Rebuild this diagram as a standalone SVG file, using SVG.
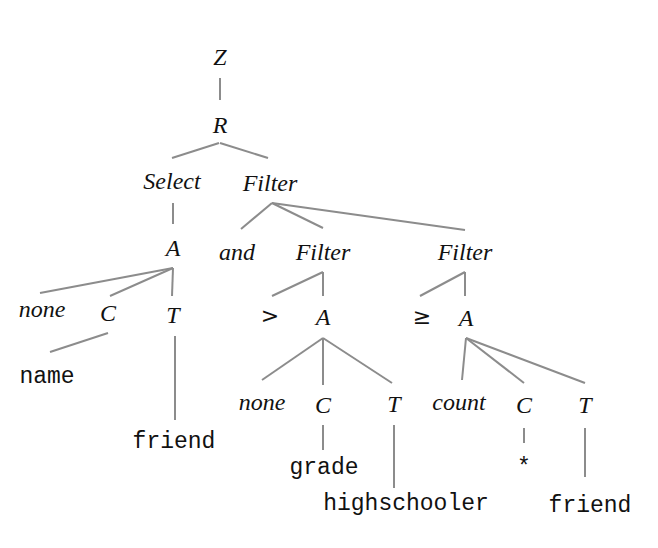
<svg xmlns="http://www.w3.org/2000/svg" width="658" height="548" viewBox="0 0 658 548">
<style>
.i{font-family:"Liberation Serif",serif;font-style:italic;font-size:24px;fill:#111;text-anchor:middle}
.o{font-family:"DejaVu Sans",sans-serif;font-size:22px;fill:#111;text-anchor:middle}
.m{font-family:"Liberation Mono",monospace;font-size:23px;fill:#111;text-anchor:middle}
.e line{stroke:#8c8c8c;stroke-width:2}
</style>
<rect width="658" height="548" fill="#fff"/>
<g class="e" id="edges">
<line x1="220" y1="78" x2="220" y2="100"/>
<line x1="219" y1="143" x2="172" y2="158"/><line x1="220" y1="143" x2="268" y2="158"/>
<line x1="173" y1="203" x2="173" y2="224"/>
<line x1="272" y1="203" x2="241" y2="229"/><line x1="272" y1="203" x2="323" y2="228"/><line x1="272" y1="203" x2="465" y2="230"/>
<line x1="173" y1="268" x2="40" y2="293"/><line x1="173" y1="268" x2="110" y2="296"/><line x1="173" y1="268" x2="172" y2="296"/>
<line x1="108" y1="333" x2="50" y2="352"/>
<line x1="175" y1="336" x2="175" y2="420"/>
<line x1="323" y1="272" x2="272" y2="296"/><line x1="323" y1="272" x2="323" y2="296"/>
<line x1="465" y1="272" x2="420" y2="296"/><line x1="465" y1="272" x2="465" y2="296"/>
<line x1="323" y1="338" x2="262" y2="380"/><line x1="323" y1="338" x2="323" y2="385"/><line x1="323" y1="338" x2="392" y2="383"/>
<line x1="323" y1="425" x2="323" y2="450"/>
<line x1="394" y1="425" x2="394" y2="488"/>
<line x1="466" y1="338" x2="462" y2="380"/><line x1="466" y1="338" x2="524" y2="383"/><line x1="466" y1="338" x2="585" y2="383"/>
<line x1="524" y1="428" x2="524" y2="443"/>
<line x1="585" y1="428" x2="585" y2="477"/>
</g>
<g id="n-Z"><text class="i" x="220" y="65">Z</text></g>
<g id="n-R"><text class="i" x="220" y="133">R</text></g>
<g id="n-select"><text class="i" x="172" y="189">Select</text></g>
<g id="n-filter1"><text class="i" x="270" y="191">Filter</text></g>
<g id="n-A1"><text class="i" x="173" y="256">A</text></g>
<g id="n-and"><text class="i" x="237" y="260">and</text></g>
<g id="n-filter2"><text class="i" x="323" y="260">Filter</text></g>
<g id="n-filter3"><text class="i" x="465" y="260">Filter</text></g>
<g id="n-none1"><text class="i" x="42" y="317">none</text></g>
<g id="n-C1"><text class="i" x="108" y="321">C</text></g>
<g id="n-T1"><text class="i" x="173" y="323">T</text></g>
<g id="n-gt"><text class="o" x="270" y="323">&gt;</text></g>
<g id="n-A2"><text class="i" x="323" y="325">A</text></g>
<g id="n-ge"><text class="o" x="422" y="324">≥</text></g>
<g id="n-A3"><text class="i" x="466" y="326">A</text></g>
<g id="n-name"><text class="m" x="47" y="383">name</text></g>
<g id="n-none2"><text class="i" x="262" y="410">none</text></g>
<g id="n-C2"><text class="i" x="323" y="413">C</text></g>
<g id="n-T2"><text class="i" x="394" y="412">T</text></g>
<g id="n-count"><text class="i" x="459" y="410">count</text></g>
<g id="n-C3"><text class="i" x="524" y="413">C</text></g>
<g id="n-T3"><text class="i" x="585" y="413">T</text></g>
<g id="n-friend1"><text class="m" x="174" y="448">friend</text></g>
<g id="n-grade"><text class="m" x="324" y="474">grade</text></g>
<g id="n-star"><text class="m" x="524" y="474">*</text></g>
<g id="n-hs"><text class="m" x="406" y="510">highschooler</text></g>
<g id="n-friend2"><text class="m" x="590" y="512">friend</text></g>
</svg>
